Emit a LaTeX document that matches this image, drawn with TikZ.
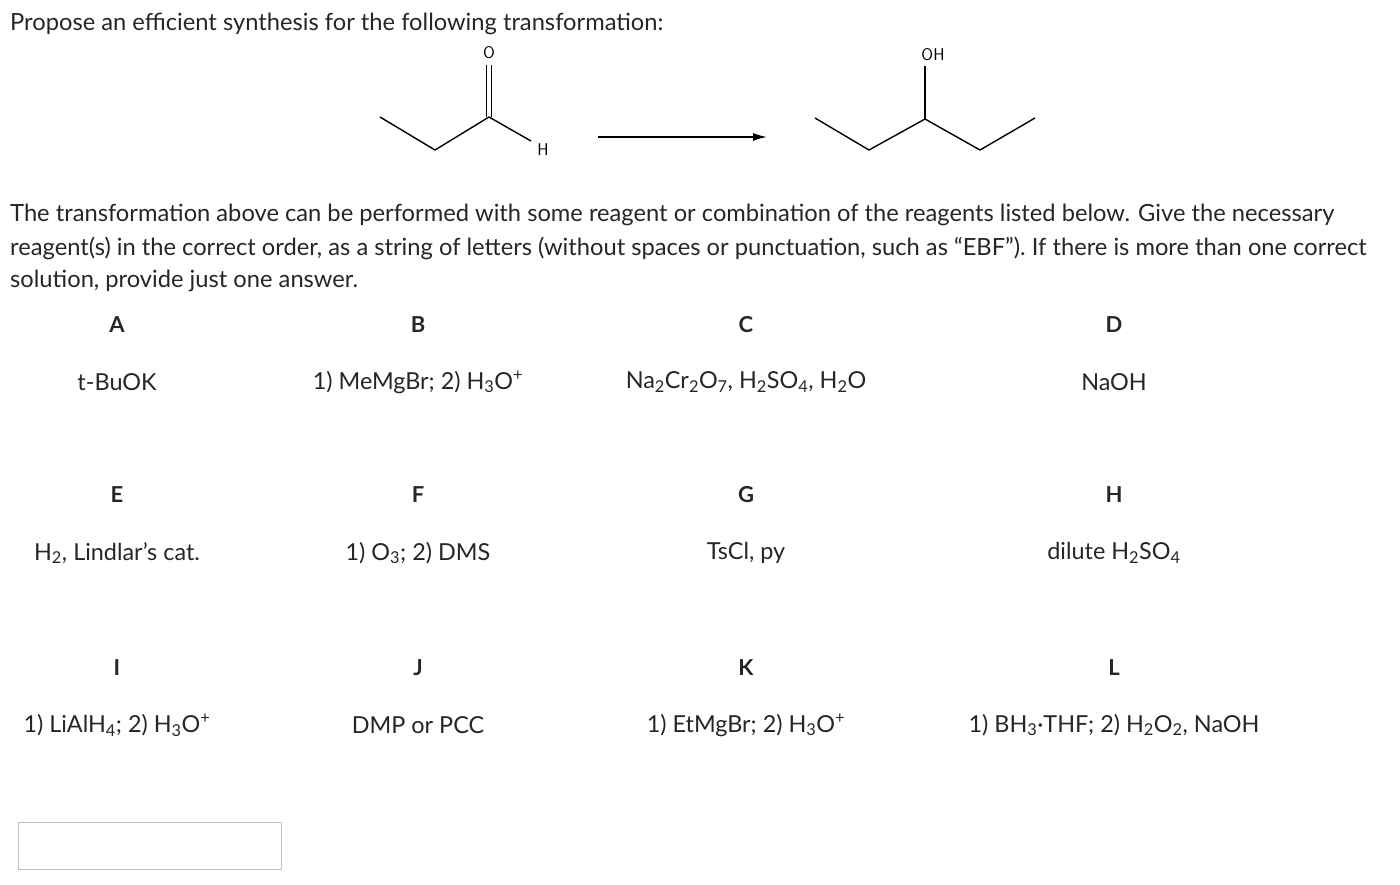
\documentclass[tikz,border=0pt]{standalone}
\usepackage{fontspec}
\setmainfont{Lato}
\usetikzlibrary{arrows.meta}
\newcommand{\sbs}[1]{\textsubscript{#1}}
\newcommand{\sps}[1]{\textsuperscript{#1}}
\begin{document}
\begin{tikzpicture}[x=1pt,y=-1pt,
  txt/.style={anchor=west,inner sep=0,font=\fontsize{23.7}{28}\selectfont,text=black!85},
  lbl/.style={inner sep=0,font=\fontsize{22}{26}\selectfont\bfseries,text=black!85},
  rg/.style={inner sep=0,font=\fontsize{23.4}{28}\selectfont,text=black!85},
  atom/.style={inner sep=1pt,font=\sffamily\fontsize{17}{19}\selectfont},
  bond/.style={line width=1.4pt,line join=round}]
\useasboundingbox (0,0) rectangle (1400,884);
\node[txt] (t1) at (10,24) {Propose an efficient synthesis for the following transformation:};
% left molecule
\coordinate (l1) at (380,117); \coordinate (l2) at (435,150); \coordinate (l3) at (489,117);
\coordinate (lh) at (531,141);
\node[atom] (lO) at (489,53) {O};
\node[atom] (lH) at (543,150) {H};
\draw[bond] (l1)--(l2)--(l3)--(lh);
\draw[bond] ([xshift=-2.5pt]l3)--([xshift=-2.5pt]489,65);
\draw[bond] ([xshift=2.5pt]l3)--([xshift=2.5pt]489,65);
% arrow
\coordinate (a1) at (598,137); \coordinate (a2) at (767,137);
\draw[line width=1.4pt,-{Latex[length=14pt,width=8pt]}] (a1)--(a2);
% right molecule
\coordinate (r1) at (815,118); \coordinate (r2) at (869,150); \coordinate (r3) at (925,119);
\coordinate (r4) at (980,150); \coordinate (r5) at (1035,118);
\node[atom] (rO) at (933,55) {OH};
\draw[bond] (r1)--(r2)--(r3)--(r4)--(r5);
\draw[bond] (r3)--(925,66);
\node[txt] (t2) at (10,215) {The transformation above can be performed with some reagent or combination of the reagents listed below. Give the necessary};
\node[txt] (t3) at (10,248) {reagent(s) in the correct order, as a string of letters (without spaces or punctuation, such as “EBF”). If there is more than one correct};
\node[txt] (t4) at (10,281) {solution, provide just one answer.};
% grid
\node[lbl] (A) at (117,325) {A}; \node[lbl] (B) at (418,325) {B};
\node[lbl] (C) at (746,325) {C}; \node[lbl] (D) at (1114,325) {D};
\node[rg] (ra) at (117,382) {t-BuOK};
\node[rg] (rb) at (418,382) {1) MeMgBr; 2) H\sbs{3}O\sps{+}};
\node[rg] (rc) at (746,382) {Na\sbs{2}Cr\sbs{2}O\sbs{7}, H\sbs{2}SO\sbs{4}, H\sbs{2}O};
\node[rg] (rd) at (1114,382) {NaOH};
\node[lbl] (E) at (117,495) {E}; \node[lbl] (F) at (418,495) {F};
\node[lbl] (G) at (746,495) {G}; \node[lbl] (H) at (1114,495) {H};
\node[rg] (re) at (117,553) {H\sbs{2}, Lindlar's cat.};
\node[rg] (rf) at (418,553) {1) O\sbs{3}; 2) DMS};
\node[rg] (rgg) at (746,553) {TsCl, py};
\node[rg] (rh) at (1114,553) {dilute H\sbs{2}SO\sbs{4}};
\node[lbl] (I) at (117,668) {I}; \node[lbl] (J) at (418,668) {J};
\node[lbl] (K) at (746,668) {K}; \node[lbl] (L) at (1114,668) {L};
\node[rg] (ri) at (117,725) {1) LiAlH\sbs{4}; 2) H\sbs{3}O\sps{+}};
\node[rg] (rj) at (418,725) {DMP or PCC};
\node[rg] (rk) at (746,725) {1) EtMgBr; 2) H\sbs{3}O\sps{+}};
\node[rg] (rl) at (1114,725) {1) BH\sbs{3}·THF; 2) H\sbs{2}O\sbs{2}, NaOH};
\draw[black!25,line width=1pt] (18,822) rectangle (281,869);
\end{tikzpicture}
\end{document}
